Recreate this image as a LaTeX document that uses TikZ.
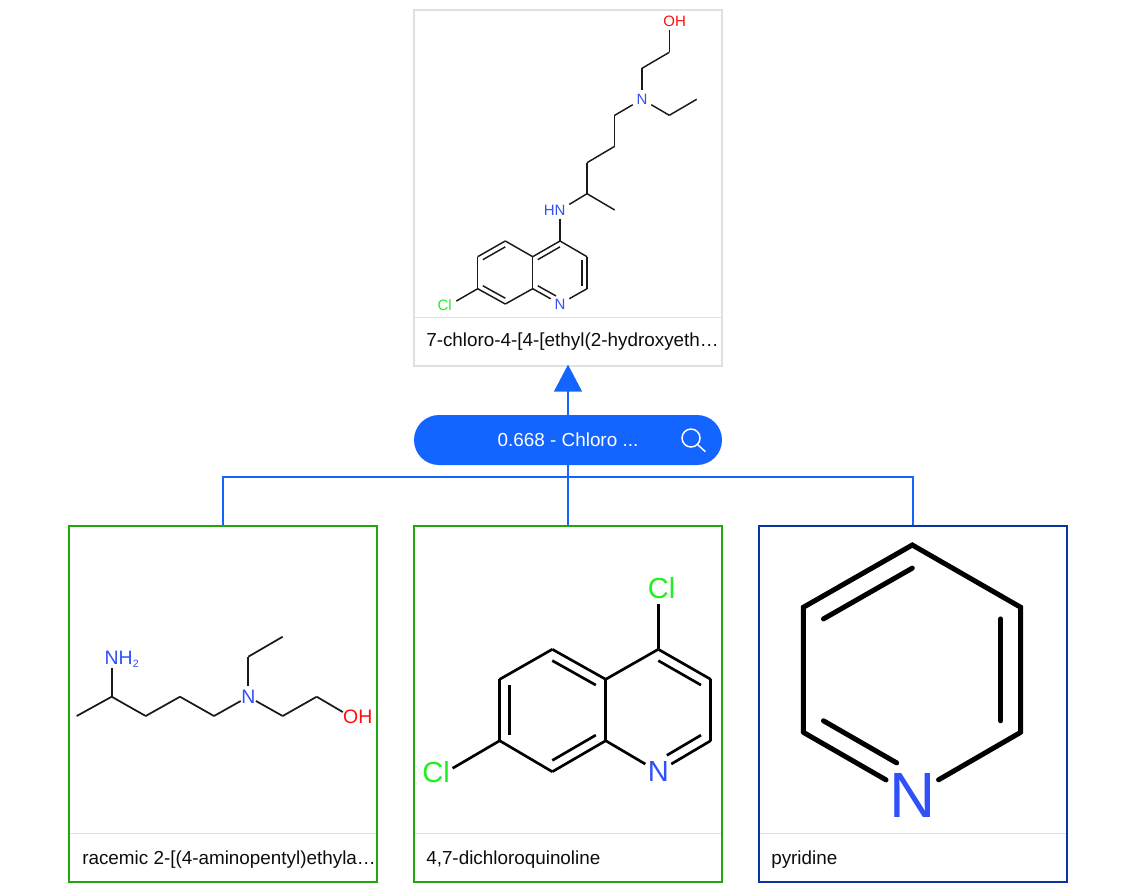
\documentclass[tikz,border=0pt]{standalone}
\usepackage{fontspec}
\setmainfont{Liberation Sans}
\usetikzlibrary{arrows.meta,calc}

\definecolor{linkblue}{RGB}{20,100,255}
\definecolor{hitgreen}{RGB}{34,166,14}
\definecolor{hitnavy}{RGB}{10,53,165}
\definecolor{cardgray}{RGB}{224,224,224}
\definecolor{atomN}{RGB}{48,80,248}
\definecolor{atomO}{RGB}{255,13,13}
\definecolor{atomCl}{RGB}{31,240,31}

\tikzset{
  card/.style={draw,rectangle,line width=1.5pt,minimum width=231pt,minimum height=267pt,inner sep=0pt},
  caption/.style={anchor=west,inner sep=0pt,font=\fontsize{14.15}{16}\selectfont,text=black!95},
  divider/.style={draw=cardgray,line width=.75pt,shorten <=1.5pt,shorten >=1.5pt},
  link/.style={draw=linkblue,line width=1.5pt}
}

\newcommand{\innerbond}[4][]{\path ($(#2)!.185!(#4)$) edge[#1] ($(#3)!.185!(#4)$);}
\newcommand{\subtwo}{\raisebox{-2.5pt}{\fontsize{8}{8}\selectfont 2}}

\begin{document}
\begin{tikzpicture}[x=.75pt,y=-.75pt]

      \useasboundingbox (0,0) rectangle (1134,893);

      \node[card,draw=cardgray] (top) at (568,188) {};
      \node[card,draw=hitgreen] (racemic) at (223,704) {};
      \node[card,draw=hitgreen] (dichloro) at (568,704) {};
      \node[card,draw=hitnavy] (pyr) at (912.5,704) {};

      \foreach \c in {top,racemic,dichloro,pyr}
        \path[divider] ([yshift=37pt]\c.south west) -- ([yshift=37pt]\c.south east);

      \node[caption] (toptext) at (426,342) {7-chloro-4-[4-[ethyl(2-hydroxyeth…};
      \node[caption] (racemictext) at (82,859.5) {racemic 2-[(4-aminopentyl)ethyla…};
      \node[caption] (dichlorotext) at (426,859.5) {4,7-dichloroquinoline};
      \node[caption] (pyrtext) at (771,859.5) {pyridine};

      % hit connectors
      \node[fill=linkblue,rectangle,rounded corners=18.75pt,minimum width=231pt,minimum height=37.5pt,inner sep=0pt,text=white,font=\fontsize{14.15}{16}\selectfont] (pill) at (568,440) {0.668 - Chloro ...};
      \coordinate (bus) at (568,476.7);
      \path[link] (racemic.north) |- (bus) -| (pyr.north);
      \path[link,line width=2pt] (pill.south) -- (dichloro.north);
      \path[link,line width=2pt,shorten >=-1.8pt,-{Triangle[length=20.25pt,width=20.7pt]},linkblue] (pill.north) -- (top.south);

      \node[circle,draw=white,line width=1.1pt,minimum size=13.5pt,inner sep=0pt] (lens) at (691,438) {};
      \coordinate (lenstip) at (705.4,451.7);
      \draw[white,line width=1.1pt] (lens.-45) -- (lenstip);

      % chloroquine
      \begin{scope}[every node/.style={inner sep=0pt,minimum width=13.5pt,minimum height=12.9pt,font=\fontsize{11.25}{12}\selectfont},
                    every edge/.style={draw,line width=1.1pt,black!90}]
        \node[text=atomO] (a1) at (669.3,21) {O\rlap{H}};
        \node[text=atomN] (a4) at (642,99.3) {N};
        \node[text=atomN] (a11) at (560,210) {\llap{H}N};
        \node[text=atomN] (a14) at (560,304) {N};
        \node[text=atomCl,minimum width=9pt] (a20) at (450,304.7) {\llap{C}l};
        \coordinate (a2) at (669.3,52.3);
        \coordinate (a3) at (642,68.3);
        \coordinate (a5) at (669.3,115.3);
        \coordinate (a6) at (696.7,99.3);
        \coordinate (a7) at (614.7,115.3);
        \coordinate (a8) at (614.7,146.3);
        \coordinate (a9) at (587,162.7);
        \coordinate (a10) at (587,193.7);
        \coordinate (a21) at (614.7,210);
        \coordinate (a12) at (560,241);
        \coordinate (a13) at (587,256.7);
        \coordinate (a15) at (587,288.7);
        \coordinate (a16) at (532.7,288.7);
        \coordinate (a17) at (532.7,256.7);
        \coordinate (a18) at (505.3,241);
        \coordinate (a19) at (477.7,256.7);
        \coordinate (a22) at (477.7,288.7);
        \coordinate (a23) at (505.3,304);
        \coordinate (r1) at (560,272.7);
        \coordinate (r2) at (505.3,272.7);
        \path (a1) edge (a2);
        \path (a2) edge (a3);
        \path (a3) edge (a4);
        \path (a4) edge (a5);
        \path (a5) edge (a6);
        \path (a4) edge (a7);
        \path (a7) edge (a8);
        \path (a8) edge (a9);
        \path (a9) edge (a10);
        \path (a10) edge (a21);
        \path (a10) edge (a11);
        \path (a11) edge (a12);
        \path (a12) edge (a13);
        \path (a13) edge (a15);
        \path (a15) edge (a14);
        \path (a14) edge (a16);
        \path (a16) edge (a17);
        \path (a17) edge (a12);
        \path (a17) edge (a18);
        \path (a18) edge (a19);
        \path (a19) edge (a22);
        \path (a22) edge (a23);
        \path (a23) edge (a16);
        \path (a22) edge (a20);
        \innerbond{a12}{a17}{r1}
        \innerbond{a13}{a15}{r1}
        \innerbond[shorten >=3.5pt]{a16}{a14}{r1}
        \innerbond{a18}{a19}{r2}
        \innerbond{a22}{a23}{r2}
      \end{scope}

      % amine side chain
      \begin{scope}[every node/.style={inner sep=0pt,minimum width=11pt,minimum height=16pt,font=\fontsize{14.6}{16}\selectfont},
                    every edge/.style={draw,line width=1.3pt,black!90}]
        \node[text=atomN,minimum height=13pt] (b3) at (111.7,659) {N\rlap{H\subtwo}};
        \node[text=atomN] (b7) at (248.3,696.7) {N};
        \node[text=atomO] (b12) at (350.7,716.7) {O\rlap{H}};
        \coordinate (b1) at (76.7,716);
        \coordinate (b2) at (111.7,696.7);
        \coordinate (b4) at (145.7,716);
        \coordinate (b5) at (180,696.7);
        \coordinate (b6) at (214,716);
        \coordinate (b8) at (248.3,656.7);
        \coordinate (b9) at (282.7,636.7);
        \coordinate (b10) at (282.7,716);
        \coordinate (b11) at (316.7,696.7);
        \path (b1) edge (b2);
        \path (b2) edge (b3);
        \path (b2) edge (b4);
        \path (b4) edge (b5);
        \path (b5) edge (b6);
        \path (b6) edge (b7);
        \path (b7) edge (b8);
        \path (b8) edge (b9);
        \path (b7) edge (b10);
        \path (b10) edge (b11);
        \path (b11) edge (b12);
      \end{scope}

      % dichloroquinoline
      \begin{scope}[every node/.style={inner sep=0pt,minimum width=24pt,minimum height=24pt,font=\fontsize{21.8}{24}\selectfont},
                    every edge/.style={draw,line width=2pt,black}]
        \node[text=atomCl] (c1) at (658.3,588) {C\rlap{l}};
        \node[text=atomN,minimum width=19pt] (c4) at (658.3,771.7) {N};
        \node[text=atomCl,minimum width=8.5pt] (c12) at (446.7,771.7) {\llap{C}l};
        \coordinate (c2) at (658.3,649.3);
        \coordinate (c3) at (710.7,679.3);
        \coordinate (c5) at (710.7,740.7);
        \coordinate (c6) at (605.7,740.7);
        \coordinate (c7) at (605.7,679.3);
        \coordinate (c8) at (552.3,649.3);
        \coordinate (c9) at (499.7,679.3);
        \coordinate (c10) at (499.7,740.7);
        \coordinate (c11) at (552.3,771.7);
        \coordinate (s1) at (658.3,710.5);
        \coordinate (s2) at (552.3,710.5);
        \path (c1) edge (c2);
        \path (c2) edge (c3);
        \path (c3) edge (c5);
        \path (c5) edge (c4);
        \path (c4) edge (c6);
        \path (c6) edge (c7);
        \path (c7) edge (c2);
        \path (c7) edge (c8);
        \path (c8) edge (c9);
        \path (c9) edge (c10);
        \path (c10) edge (c11);
        \path (c11) edge (c6);
        \path (c10) edge (c12);
        \innerbond{c2}{c3}{s1}
        \innerbond[shorten >=7.5pt]{c5}{c4}{s1}
        \innerbond{c7}{c8}{s2}
        \innerbond{c9}{c10}{s2}
        \innerbond{c11}{c6}{s2}
      \end{scope}

      % pyridine
      \begin{scope}[every node/.style={inner sep=0pt,minimum width=39pt,minimum height=39pt,font=\fontsize{48}{50}\selectfont},
                    every edge/.style={draw,line width=3.75pt,black,line cap=round}]
        \node[text=atomN] (d1) at (912.3,795) {N};
        \coordinate (d2) at (1020.7,732.3);
        \coordinate (d3) at (1020.7,607.3);
        \coordinate (d4) at (912.3,545);
        \coordinate (d5) at (803.3,607.3);
        \coordinate (d6) at (803.3,732.3);
        \coordinate (m) at (912.3,670);
        \path (d1) edge (d2);
        \draw[line width=3.75pt,black,line join=miter] (d2) -- (d3) -- (d4) -- (d5) -- (d6);
        \path (d6) edge (d1);
        \innerbond{d2}{d3}{m}
        \innerbond{d4}{d5}{m}
        \innerbond[shorten >=13.5pt]{d6}{d1}{m}
      \end{scope}

    \end{tikzpicture}
\end{document}
